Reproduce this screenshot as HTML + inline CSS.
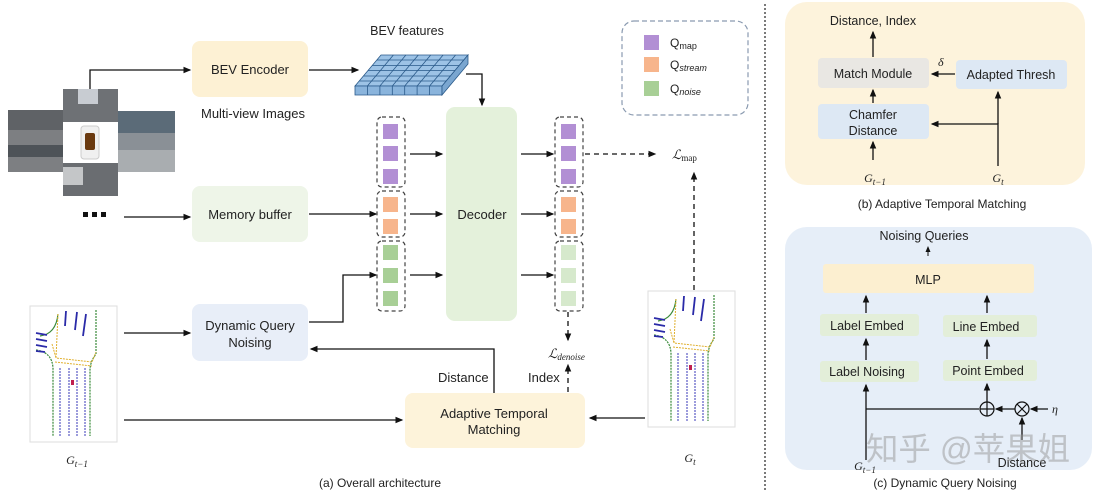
<!DOCTYPE html>
<html><head><meta charset="utf-8"><style>
html,body{margin:0;padding:0;background:#fff;}
svg{display:block;}
text{font-family:"Liberation Sans",sans-serif;fill:#222;}
.m{font-family:"Liberation Serif",serif;font-style:italic;}
</style></head><body>
<svg width="1100" height="496" viewBox="0 0 1100 496" xmlns="http://www.w3.org/2000/svg">
<defs>
<marker id="a" markerWidth="6" markerHeight="6" refX="5" refY="3" orient="auto"><path d="M0,0.5 L6,3 L0,5.5 z" fill="#111"/></marker>
<g id="map">
<rect x="0" y="0" width="87" height="136" fill="#fff" stroke="#ddd"/>
<path d="M10,30 Q26,28 28,8" fill="none" stroke="#3a8a3a" stroke-width="1.2"/>
<path d="M6,44 Q22,46 23,62 L23,130" fill="none" stroke="#3a8a3a" stroke-width="1.2" stroke-dasharray="2 1"/>
<path d="M66,4 L66,48 Q60,56 60,64 L60,130" fill="none" stroke="#3a8a3a" stroke-width="1.2" stroke-dasharray="2 1"/>
<g stroke="#2a2aa8" stroke-width="1.8">
<line x1="6" y1="27" x2="17" y2="29"/><line x1="6" y1="33" x2="17" y2="35"/><line x1="6" y1="39" x2="17" y2="41"/><line x1="6" y1="45" x2="15" y2="46"/>
<line x1="36" y1="5" x2="35" y2="20"/><line x1="47" y1="6" x2="45" y2="24"/><line x1="56" y1="8" x2="53" y2="30"/>
</g>
<g stroke="#3a3ab8" stroke-width="1" stroke-dasharray="2 1" fill="none">
<line x1="30" y1="62" x2="30" y2="130"/><line x1="39" y1="62" x2="39" y2="130"/><line x1="47" y1="62" x2="47" y2="130"/><line x1="55" y1="62" x2="55" y2="130"/>
</g>
<path d="M28,8 L26,52 L62,56 L66,46 M22,38 L26,52 M25,56 L62,60" fill="none" stroke="#e0b030" stroke-width="1" stroke-dasharray="2 1"/>
<rect x="41" y="74" width="3" height="5" fill="#c02050"/>
</g>
</defs>

<g>
<rect x="8" y="110" width="55" height="62" fill="#7d7f82"/>
<rect x="8" y="110" width="55" height="20" fill="#5f6266"/>
<rect x="8" y="145" width="55" height="12" fill="#4e5358"/>
<rect x="118" y="111" width="57" height="61" fill="#8a9096"/>
<rect x="118" y="111" width="57" height="22" fill="#5b6b78"/>
<rect x="118" y="150" width="57" height="22" fill="#a9adb0"/>
<rect x="63" y="89" width="55" height="33" fill="#6e7175"/>
<rect x="78" y="89" width="20" height="15" fill="#c8ccd2"/>
<rect x="63" y="163" width="55" height="33" fill="#6a6d71"/>
<rect x="63" y="167" width="20" height="18" fill="#c4c6c8"/>
<rect x="63" y="122" width="55" height="41" fill="#fff"/>
<rect x="81" y="126" width="18" height="33" rx="3" fill="#f0f0f0" stroke="#ccc"/>
<rect x="85" y="133" width="10" height="17" rx="2" fill="#6a3a10"/>
</g>
<polyline points="90,89 90,70 190,70" fill="none" stroke="#111" stroke-width="1.3" marker-end="url(#a)"/>

<rect x="192" y="41" width="116" height="56" rx="8" fill="#fdf1d4"/>
<text x="250" y="74" font-size="13" text-anchor="middle">BEV Encoder</text>
<text x="253" y="118" font-size="13" text-anchor="middle">Multi-view Images</text>
<line x1="309" y1="70" x2="358" y2="70" stroke="#111" stroke-width="1.3" marker-end="url(#a)"/>

<text x="407" y="35" font-size="12.5" text-anchor="middle">BEV features</text>
<g stroke="#2a5a8a" stroke-width="0.8">
<polygon points="355,86 381,55 468,55 442,86" fill="#9dc3e6"/>
<polygon points="355,86 442,86 442,95 355,95" fill="#8ab4dc"/>
<polygon points="442,86 468,55 468,64 442,95" fill="#7aa6d0"/>
<g fill="none">
<line x1="359.3" y1="81" x2="446.3" y2="81"/><line x1="363.7" y1="76" x2="450.7" y2="76"/><line x1="368" y1="70.5" x2="455" y2="70.5"/><line x1="372.3" y1="65.5" x2="459.3" y2="65.5"/><line x1="376.7" y1="60" x2="463.7" y2="60"/>
<line x1="367.4" y1="95" x2="367.4" y2="86"/><line x1="379.9" y1="95" x2="379.9" y2="86"/><line x1="392.3" y1="95" x2="392.3" y2="86"/><line x1="404.7" y1="95" x2="404.7" y2="86"/><line x1="417.1" y1="95" x2="417.1" y2="86"/><line x1="429.6" y1="95" x2="429.6" y2="86"/>
<line x1="367.4" y1="86" x2="393.4" y2="55"/><line x1="379.9" y1="86" x2="405.9" y2="55"/><line x1="392.3" y1="86" x2="418.3" y2="55"/><line x1="404.7" y1="86" x2="430.7" y2="55"/><line x1="417.1" y1="86" x2="443.1" y2="55"/><line x1="429.6" y1="86" x2="455.6" y2="55"/>
</g></g>
<polyline points="466,74 482,74 482,105" fill="none" stroke="#111" stroke-width="1.3" marker-end="url(#a)"/>

<rect x="446" y="107" width="71" height="214" rx="9" fill="#e4f1db"/>
<text x="482" y="219" font-size="13" text-anchor="middle">Decoder</text>

<rect x="192" y="186" width="116" height="56" rx="8" fill="#eef5e8"/>
<text x="250" y="219" font-size="13" text-anchor="middle">Memory buffer</text>
<g fill="#111"><rect x="83" y="212" width="5" height="5"/><rect x="92" y="212" width="5" height="5"/><rect x="101" y="212" width="5" height="5"/></g>
<line x1="124" y1="217" x2="190" y2="217" stroke="#111" stroke-width="1.3" marker-end="url(#a)"/>
<line x1="309" y1="214" x2="376" y2="214" stroke="#111" stroke-width="1.3" marker-end="url(#a)"/>

<g stroke="#444" stroke-width="1.2" stroke-dasharray="4 3" fill="none">
<rect x="377" y="117" width="28" height="70" rx="5"/><rect x="377" y="191" width="28" height="46" rx="5"/><rect x="377" y="241" width="28" height="70" rx="5"/>
<rect x="555" y="117" width="28" height="70" rx="5"/><rect x="555" y="191" width="28" height="46" rx="5"/><rect x="555" y="241" width="28" height="70" rx="5"/>
</g>
<g fill="#b28fd4"><rect x="383" y="124" width="15" height="15"/><rect x="383" y="146" width="15" height="15"/><rect x="383" y="169" width="15" height="15"/>
<rect x="561" y="124" width="15" height="15"/><rect x="561" y="146" width="15" height="15"/><rect x="561" y="169" width="15" height="15"/></g>
<g fill="#f7b58c"><rect x="383" y="197" width="15" height="15"/><rect x="383" y="219" width="15" height="15"/>
<rect x="561" y="197" width="15" height="15"/><rect x="561" y="219" width="15" height="15"/></g>
<g fill="#a8cf96"><rect x="383" y="245" width="15" height="15"/><rect x="383" y="268" width="15" height="15"/><rect x="383" y="291" width="15" height="15"/></g>
<g fill="#d6e9cc"><rect x="561" y="245" width="15" height="15"/><rect x="561" y="268" width="15" height="15"/><rect x="561" y="291" width="15" height="15"/></g>
<g stroke="#111" stroke-width="1.3" marker-end="url(#a)">
<line x1="410" y1="154" x2="442" y2="154"/><line x1="410" y1="214" x2="442" y2="214"/><line x1="410" y1="275" x2="442" y2="275"/>
<line x1="521" y1="154" x2="553" y2="154"/><line x1="521" y1="214" x2="553" y2="214"/><line x1="521" y1="275" x2="553" y2="275"/>
</g>

<rect x="192" y="304" width="116" height="57" rx="8" fill="#e8eef8"/>
<text x="250" y="330" font-size="13" text-anchor="middle">Dynamic Query</text>
<text x="250" y="347" font-size="13" text-anchor="middle">Noising</text>
<polyline points="309,322 343,322 343,275 376,275" fill="none" stroke="#111" stroke-width="1.3" marker-end="url(#a)"/>

<use href="#map" x="30" y="306"/>
<text x="77" y="464" class="m" font-size="12" text-anchor="middle">G<tspan font-size="9" dy="3">t−1</tspan></text>
<line x1="124" y1="333" x2="190" y2="333" stroke="#111" stroke-width="1.3" marker-end="url(#a)"/>
<line x1="124" y1="420" x2="402" y2="420" stroke="#111" stroke-width="1.3" marker-end="url(#a)"/>

<rect x="405" y="393" width="180" height="55" rx="8" fill="#fdf3da"/>
<text x="494" y="418" font-size="13" text-anchor="middle">Adaptive Temporal</text>
<text x="494" y="434" font-size="13" text-anchor="middle">Matching</text>
<polyline points="494,393 494,349 311,349" fill="none" stroke="#111" stroke-width="1.3" marker-end="url(#a)"/>
<text x="438" y="382" font-size="13">Distance</text>
<text x="528" y="382" font-size="13">Index</text>

<use href="#map" x="648" y="291"/>
<text x="690" y="462" class="m" font-size="12" text-anchor="middle">G<tspan font-size="9" dy="3">t</tspan></text>
<line x1="645" y1="418" x2="590" y2="418" stroke="#111" stroke-width="1.3" marker-end="url(#a)"/>

<g stroke="#111" stroke-width="1.3" stroke-dasharray="5 4" fill="none">
<line x1="585" y1="154" x2="655" y2="154" marker-end="url(#a)"/>
<line x1="694" y1="290" x2="694" y2="173" marker-end="url(#a)"/>
<line x1="568" y1="312" x2="568" y2="340" marker-end="url(#a)"/>
<line x1="568" y1="392" x2="568" y2="365" marker-end="url(#a)"/>
</g>
<text x="672" y="159" class="m" font-size="13">ℒ<tspan font-style="normal" font-size="9" dy="2">map</tspan></text>
<text x="548" y="358" class="m" font-size="13">ℒ<tspan font-size="9" dy="2">denoise</tspan></text>

<rect x="622" y="21" width="126" height="94" rx="12" fill="none" stroke="#8a9ab0" stroke-width="1.2" stroke-dasharray="5 3"/>
<rect x="644" y="35" width="15" height="15" fill="#b28fd4"/>
<rect x="644" y="57" width="15" height="15" fill="#f7b58c"/>
<rect x="644" y="81" width="15" height="15" fill="#a8cf96"/>
<text x="670" y="47" font-size="12" font-family="Liberation Serif">Q<tspan font-size="9" dy="2">map</tspan></text>
<text x="670" y="69" font-size="12" font-family="Liberation Serif">Q<tspan font-size="9" dy="2" font-style="italic">stream</tspan></text>
<text x="670" y="93" font-size="12" font-family="Liberation Serif">Q<tspan font-size="9" dy="2" font-style="italic">noise</tspan></text>

<text x="380" y="487" font-size="12" text-anchor="middle">(a) Overall architecture</text>

<line x1="765" y1="4" x2="765" y2="490" stroke="#333" stroke-width="1.3" stroke-dasharray="2 2"/>

<rect x="785" y="2" width="300" height="183" rx="22" fill="#fdf3dc"/>
<text x="873" y="25" font-size="12.5" text-anchor="middle">Distance, Index</text>
<line x1="873" y1="57" x2="873" y2="32" stroke="#111" stroke-width="1.3" marker-end="url(#a)"/>
<rect x="818" y="58" width="111" height="30" rx="4" fill="#e9e7e3"/>
<text x="873" y="78" font-size="12.5" text-anchor="middle">Match Module</text>
<rect x="956" y="60" width="111" height="29" rx="4" fill="#dde8f4"/>
<text x="1011" y="79" font-size="12.5" text-anchor="middle">Adapted Thresh</text>
<text x="938" y="66" class="m" font-size="12">δ</text>
<line x1="955" y1="74" x2="932" y2="74" stroke="#111" stroke-width="1.3" marker-end="url(#a)"/>
<line x1="873" y1="103" x2="873" y2="90" stroke="#111" stroke-width="1.3" marker-end="url(#a)"/>
<rect x="818" y="104" width="111" height="35" rx="4" fill="#dde8f4"/>
<text x="873" y="119" font-size="12.5" text-anchor="middle">Chamfer</text>
<text x="873" y="135" font-size="12.5" text-anchor="middle">Distance</text>
<line x1="873" y1="160" x2="873" y2="142" stroke="#111" stroke-width="1.3" marker-end="url(#a)"/>
<polyline points="998,166 998,124 932,124" fill="none" stroke="#111" stroke-width="1.3" marker-end="url(#a)"/>
<line x1="998" y1="124" x2="998" y2="92" stroke="#111" stroke-width="1.3" marker-end="url(#a)"/>
<text x="875" y="182" class="m" font-size="12" text-anchor="middle">G<tspan font-size="9" dy="3">t−1</tspan></text>
<text x="998" y="182" class="m" font-size="12" text-anchor="middle">G<tspan font-size="9" dy="3">t</tspan></text>
<text x="942" y="208" font-size="12" text-anchor="middle">(b) Adaptive Temporal Matching</text>

<rect x="785" y="227" width="307" height="243" rx="22" fill="#e6eef8"/>
<text x="924" y="240" font-size="12.5" text-anchor="middle">Noising Queries</text>
<line x1="928" y1="256" x2="928" y2="247" stroke="#111" stroke-width="1" marker-end="url(#a)"/>
<rect x="823" y="264" width="211" height="29" rx="3" fill="#fcefd0"/>
<text x="928" y="284" font-size="12.5" text-anchor="middle">MLP</text>
<line x1="866" y1="313" x2="866" y2="296" stroke="#111" stroke-width="1.3" marker-end="url(#a)"/>
<line x1="987" y1="313" x2="987" y2="296" stroke="#111" stroke-width="1.3" marker-end="url(#a)"/>
<rect x="820" y="314" width="99" height="22" rx="3" fill="#e3eed9"/>
<text x="867" y="330" font-size="12.5" text-anchor="middle">Label Embed</text>
<rect x="943" y="315" width="94" height="22" rx="3" fill="#e3eed9"/>
<text x="986" y="331" font-size="12.5" text-anchor="middle">Line Embed</text>
<line x1="866" y1="360" x2="866" y2="339" stroke="#111" stroke-width="1.3" marker-end="url(#a)"/>
<line x1="987" y1="359" x2="987" y2="340" stroke="#111" stroke-width="1.3" marker-end="url(#a)"/>
<rect x="820" y="361" width="99" height="21" rx="3" fill="#e3eed9"/>
<text x="867" y="376" font-size="12.5" text-anchor="middle">Label Noising</text>
<rect x="943" y="360" width="94" height="21" rx="3" fill="#e3eed9"/>
<text x="988" y="375" font-size="12.5" text-anchor="middle">Point Embed</text>
<line x1="866" y1="460" x2="866" y2="385" stroke="#111" stroke-width="1.3" marker-end="url(#a)"/>
<line x1="866" y1="409" x2="979" y2="409" stroke="#111" stroke-width="1.3"/>
<circle cx="987" cy="409" r="7" fill="none" stroke="#111" stroke-width="1.2"/>
<path d="M980,409 H994 M987,402 V416" stroke="#111" stroke-width="1.2"/>
<line x1="987" y1="402" x2="987" y2="384" stroke="#111" stroke-width="1.3" marker-end="url(#a)"/>
<circle cx="1022" cy="409" r="7" fill="none" stroke="#111" stroke-width="1.2"/>
<path d="M1017,404 L1027,414 M1027,404 L1017,414" stroke="#111" stroke-width="1.2"/>
<line x1="1015" y1="409" x2="996" y2="409" stroke="#111" stroke-width="1.3" marker-end="url(#a)"/>
<line x1="1048" y1="409" x2="1031" y2="409" stroke="#111" stroke-width="1.3" marker-end="url(#a)"/>
<text x="1052" y="413" class="m" font-size="12">η</text>
<line x1="1022" y1="440" x2="1022" y2="418" stroke="#111" stroke-width="1.3" marker-end="url(#a)"/>
<text x="1022" y="467" font-size="12.5" text-anchor="middle">Distance</text>
<text x="865" y="470" class="m" font-size="12" text-anchor="middle">G<tspan font-size="9" dy="3">t−1</tspan></text>
<text x="866" y="460" font-size="32" textLength="204" lengthAdjust="spacingAndGlyphs" style="font-family:'Liberation Sans','Noto Sans CJK SC',sans-serif;fill:rgba(150,150,150,0.5)">知乎 @苹果姐</text>
<text x="945" y="487" font-size="12" text-anchor="middle">(c) Dynamic Query Noising</text>
</svg>
</body></html>
